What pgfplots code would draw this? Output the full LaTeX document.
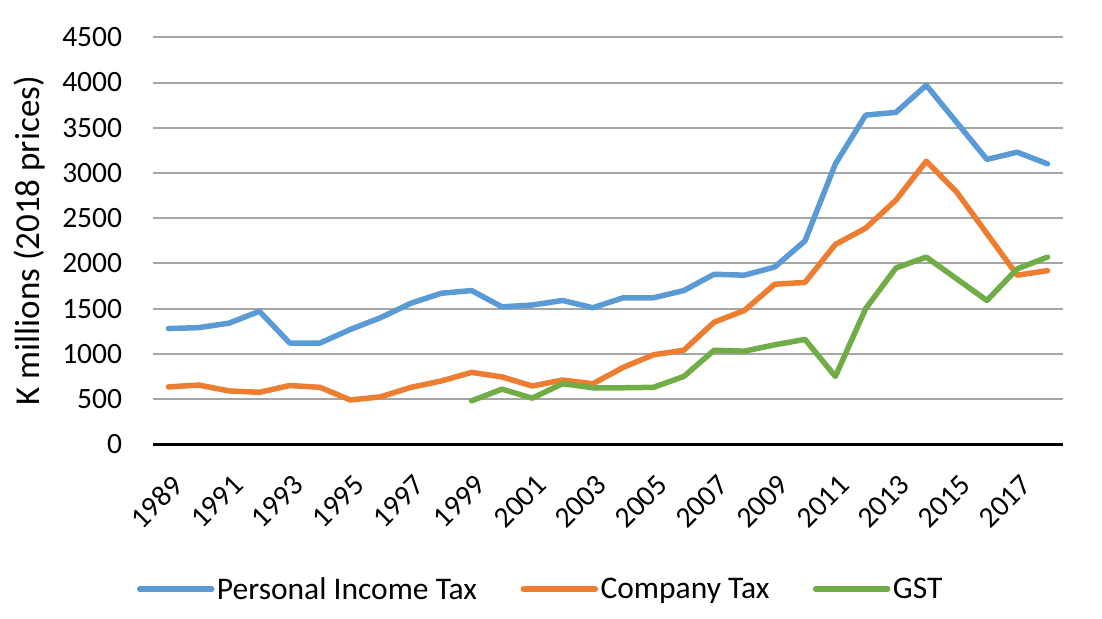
\documentclass[border=0pt]{standalone}
\usepackage{pgfplots}
\pgfplotsset{compat=1.18}
\usepackage{fontspec}
\setmainfont{Carlito}

\definecolor{pitblue}{HTML}{5B9BD5}
\definecolor{ctorange}{HTML}{ED7D31}
\definecolor{gstgreen}{HTML}{70AD47}
\definecolor{gridgray}{HTML}{A6A6A6}

\newcommand{\tickfont}{\fontsize{29.5}{35}\selectfont}
\newcommand{\legendfont}{\fontsize{31.5}{38}\selectfont}
\newcommand{\titlefont}{\fontsize{35}{42}\selectfont}

\begin{document}
\begin{tikzpicture}
\useasboundingbox (-153.3pt,-173.7pt) rectangle (948.7pt,444.3pt);
\begin{axis}[
  scale only axis,
  width=909.4pt, height=407pt,
  xmin=1988.5, xmax=2018.5,
  ymin=0, ymax=4500,
  axis x line*=bottom, axis y line*=left,
  y axis line style={draw=none},
  x axis line style={black, line width=3.3pt},
  major tick length=0pt,
  xtick={1989,1991,...,2017},
  xticklabels={1989,1991,1993,1995,1997,1999,2001,2003,2005,2007,2009,2011,2013,2015,2017},
  ytick={0,500,...,4500},
  /pgf/number format/assume math mode=true,
  /pgf/number format/set thousands separator={},
  ymajorgrids,
  major grid style={gridgray, line width=2pt},
  tick label style={font=\tickfont, inner sep=0pt},
  yticklabel style={anchor=east, xshift=-31pt},
  xticklabel style={yshift=-29pt, xshift=2pt, rotate=45, anchor=north east},
  ylabel={K millions (2018 prices)},
  every axis y label/.style={at={(axis description cs:-0.1356,0.5)}, rotate=90, anchor=center, font=\titlefont},
  legend columns=3,
  legend style={at={(0.4263,-0.3555)}, anchor=center, draw=none, font=\legendfont,
    nodes={inner sep=2.5pt},
    /tikz/every even column/.append style={column sep=41pt}},
  legend image code/.code={\draw[#1, line width=5.5pt] (0pt,0pt) -- (72pt,0pt);},
  every axis plot/.append style={line width=5.5pt, line join=round, line cap=round, mark=none},
]
\addplot[pitblue] coordinates {
(1989,1280) (1990,1290) (1991,1340) (1992,1470) (1993,1120) (1994,1120)
(1995,1270) (1996,1400) (1997,1560) (1998,1670) (1999,1700) (2000,1520)
(2001,1540) (2002,1590) (2003,1510) (2004,1620) (2005,1620) (2006,1700)
(2007,1880) (2008,1870) (2009,1960) (2010,2250) (2011,3100) (2012,3640)
(2013,3670) (2014,3970) (2015,3560) (2016,3150) (2017,3230) (2018,3100)
};
\addlegendentry{Personal Income Tax}
\addplot[ctorange] coordinates {
(1989,635) (1990,655) (1991,590) (1992,575) (1993,650) (1994,630)
(1995,490) (1996,525) (1997,630) (1998,700) (1999,795) (2000,745)
(2001,645) (2002,710) (2003,670) (2004,850) (2005,990) (2006,1040)
(2007,1350) (2008,1480) (2009,1770) (2010,1790) (2011,2210) (2012,2390)
(2013,2700) (2014,3130) (2015,2790) (2016,2330) (2017,1870) (2018,1920)
};
\addlegendentry{Company Tax}
\addplot[gstgreen] coordinates {
(1999,480) (2000,610) (2001,510) (2002,670) (2003,625) (2004,625)
(2005,630) (2006,750) (2007,1040) (2008,1030) (2009,1100) (2010,1160)
(2011,750) (2012,1500) (2013,1950) (2014,2070) (2015,1830) (2016,1590)
(2017,1940) (2018,2070)
};
\addlegendentry{GST}
\end{axis}
\end{tikzpicture}
\end{document}
